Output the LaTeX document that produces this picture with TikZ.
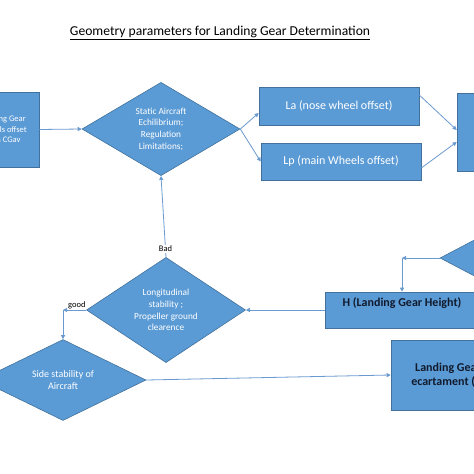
\documentclass[tikz,border=0pt]{standalone}
\usepackage{fontspec}
\setmainfont{Carlito}
\usetikzlibrary{shapes.geometric,arrows.meta,positioning}
\definecolor{boxblue}{HTML}{5B9BD5}
\definecolor{edgeblue}{HTML}{41719C}
\definecolor{lineblue}{HTML}{6A9AD0}
\definecolor{darktext}{HTML}{111A2C}
\tikzset{
  block/.style={rectangle, fill=boxblue, draw=edgeblue, line width=0.6pt, inner sep=2pt, align=center},
  whitetext/.style={text=white, font=\fontsize{12}{14}\selectfont},
  boldtext/.style={text=darktext, font=\fontsize{12}{14}\selectfont\bfseries},
  decision/.style={diamond, fill=boxblue, draw=edgeblue, line width=0.6pt, inner sep=0pt,
    text=white, align=center, font=\fontsize{9.3}{11.7}\selectfont},
  tag/.style={font=\fontsize{8.5}{10}\selectfont, inner sep=1pt},
  link/.style={draw=lineblue, line width=0.8pt, -{Triangle[width=4pt,length=4pt]}}
}
\begin{document}
\begin{tikzpicture}[x=1pt,y=-1pt]
  \useasboundingbox (0,0) rectangle (474,474);
  \clip (0,0) rectangle (474,474);
  % title
  \node[font=\fontsize{13.6}{16}\selectfont] (title) at (220,33)
    {\underline{Geometry parameters for Landing Gear Determination}};
  % top row
  \node[block, whitetext, font=\fontsize{8.5}{10.5}\selectfont,
    minimum width=72pt, minimum height=75pt] (wheel) at (3,129.5)
    {Landing Gear\\Wheels offset\\with CGav};
  \node[decision, minimum width=158pt, minimum height=84pt] (static) at (161,129)
    {Static Aircraft\\Echilibrium;\\Regulation\\Limitations;};
  \node[block, whitetext, minimum width=160pt, minimum height=38pt] (la) at (339,106)
    {La (nose wheel offset)};
  \node[block, whitetext, minimum width=160pt, minimum height=37pt] (lp) at (341,161.5)
    {Lp (main Wheels offset)};
  \node[block, minimum width=66pt, minimum height=78pt] (wheelbase) at (490,132) {};
  % middle row
  \node[decision, minimum width=159pt, minimum height=83pt] (longit) at (166,310)
    {Longitudinal\\stability ;\\Propeller ground\\clearence};
  \node[decision, minimum width=160pt, minimum height=84pt] (propel) at (520,258) {};
  \node[block, boldtext, minimum width=154pt, minimum height=36pt,
    text height=8pt, text depth=15pt] (height) at (402,310)
    {H (Landing Gear Height)};
  % bottom row
  \node[decision, font=\fontsize{10}{12}\selectfont,
    minimum width=166pt, minimum height=81pt] (side) at (63,380)
    {Side stability of\\Aircraft};
  \node[block, boldtext, minimum width=114pt, minimum height=70pt] (track) at (448,375)
    {Landing Gear\\ecartament (E)};
  % connectors
  \draw[link] (wheel.east) -- (static.west);
  \draw[link] (static.east) -- ([yshift=-7pt]la.west);
  \draw[link] (static.east) -- (lp.west);
  \draw[link] ([yshift=11pt]la.east) -- ([yshift=2pt]wheelbase.west);
  \draw[link] ([yshift=-6.5pt]lp.east) -- ([yshift=-10pt]wheelbase.west);
  \draw[link] (longit.north) -- node[tag, pos=0.1, fill=white] (bad) {Bad} (static.south);
  \draw[link] (height.west) -- (longit.east);
  \coordinate (hcorner) at (propel.west -| height.north);
  \draw[link] (propel.west) -- (hcorner);
  \draw[link] (hcorner) -- (height.north);
  \coordinate (gcorner) at (longit.west -| side.north);
  \draw[link] (longit.west) -- node[tag, pos=0.4, above] (good) {good} (gcorner);
  \draw[link] (gcorner) -- (side.north);
  \draw[link] (side.east) -- (track.west);
\end{tikzpicture}
\end{document}
